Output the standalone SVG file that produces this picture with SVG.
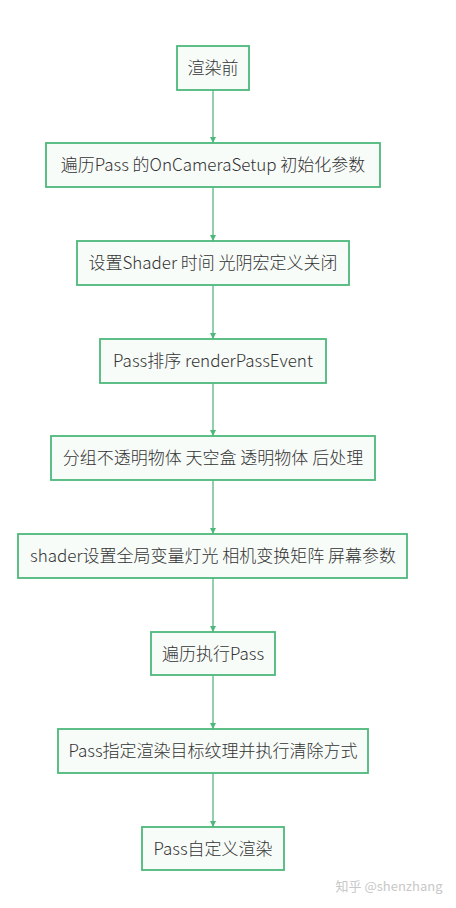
<svg xmlns="http://www.w3.org/2000/svg" width="456" height="908" viewBox="0 0 456 908">
<defs>
<style>
.box{fill:#f8fcf9;stroke:#4cb97a;stroke-width:1.8}
.lbl{font-family:"Noto Sans CJK SC","Noto Sans",sans-serif;font-size:17px;font-weight:300;fill:#333;text-anchor:middle}
.edge{stroke:#6cc08e;stroke-width:1.5;fill:none;marker-end:url(#ah)}
.wm{font-family:"Noto Sans CJK SC","Noto Sans",sans-serif;font-size:13px;fill:#c8c8c8;text-anchor:middle}
</style>
<marker id="ah" markerWidth="8" markerHeight="8" refX="7" refY="4" orient="auto" markerUnits="userSpaceOnUse">
<path d="M1,1 L7,4 L1,7 Z" fill="#4cb97a"/>
</marker>
</defs>
<rect width="456" height="908" fill="#ffffff"/>
<g id="connectors">
<line class="edge" x1="213" y1="90" x2="213" y2="143"/>
<line class="edge" x1="213" y1="187" x2="213" y2="241"/>
<line class="edge" x1="213" y1="285" x2="213" y2="339"/>
<line class="edge" x1="213" y1="383" x2="213" y2="436"/>
<line class="edge" x1="213" y1="480" x2="213" y2="534"/>
<line class="edge" x1="213" y1="578" x2="213" y2="632"/>
<line class="edge" x1="213" y1="675" x2="213" y2="729"/>
<line class="edge" x1="213" y1="773" x2="213" y2="827"/>
</g>
<g id="n1"><rect class="box" x="177" y="46" width="72" height="44"/><text class="lbl" x="213" y="74">渲染前</text></g>
<g id="n2"><rect class="box" x="46" y="143" width="334" height="44"/><text class="lbl" x="213" y="171">遍历Pass 的OnCameraSetup 初始化参数</text></g>
<g id="n3"><rect class="box" x="77" y="241" width="272" height="44"/><text class="lbl" x="213" y="269">设置Shader 时间 光阴宏定义关闭</text></g>
<g id="n4"><rect class="box" x="100" y="339" width="226" height="44"/><text class="lbl" x="213" y="367">Pass排序 renderPassEvent</text></g>
<g id="n5"><rect class="box" x="51" y="436" width="324" height="44"/><text class="lbl" x="213" y="464">分组不透明物体 天空盒 透明物体 后处理</text></g>
<g id="n6"><rect class="box" x="18" y="534" width="389" height="44"/><text class="lbl" x="213" y="562">shader设置全局变量灯光 相机变换矩阵 屏幕参数</text></g>
<g id="n7"><rect class="box" x="151" y="632" width="124" height="43"/><text class="lbl" x="213" y="659.5">遍历执行Pass</text></g>
<g id="n8"><rect class="box" x="58" y="729" width="310" height="44"/><text class="lbl" x="213" y="757">Pass指定渲染目标纹理并执行清除方式</text></g>
<g id="n9"><rect class="box" x="142" y="827" width="142" height="43"/><text class="lbl" x="213" y="854.5">Pass自定义渲染</text></g>
<text class="wm" x="389" y="891">知乎 @shenzhang</text>
</svg>
